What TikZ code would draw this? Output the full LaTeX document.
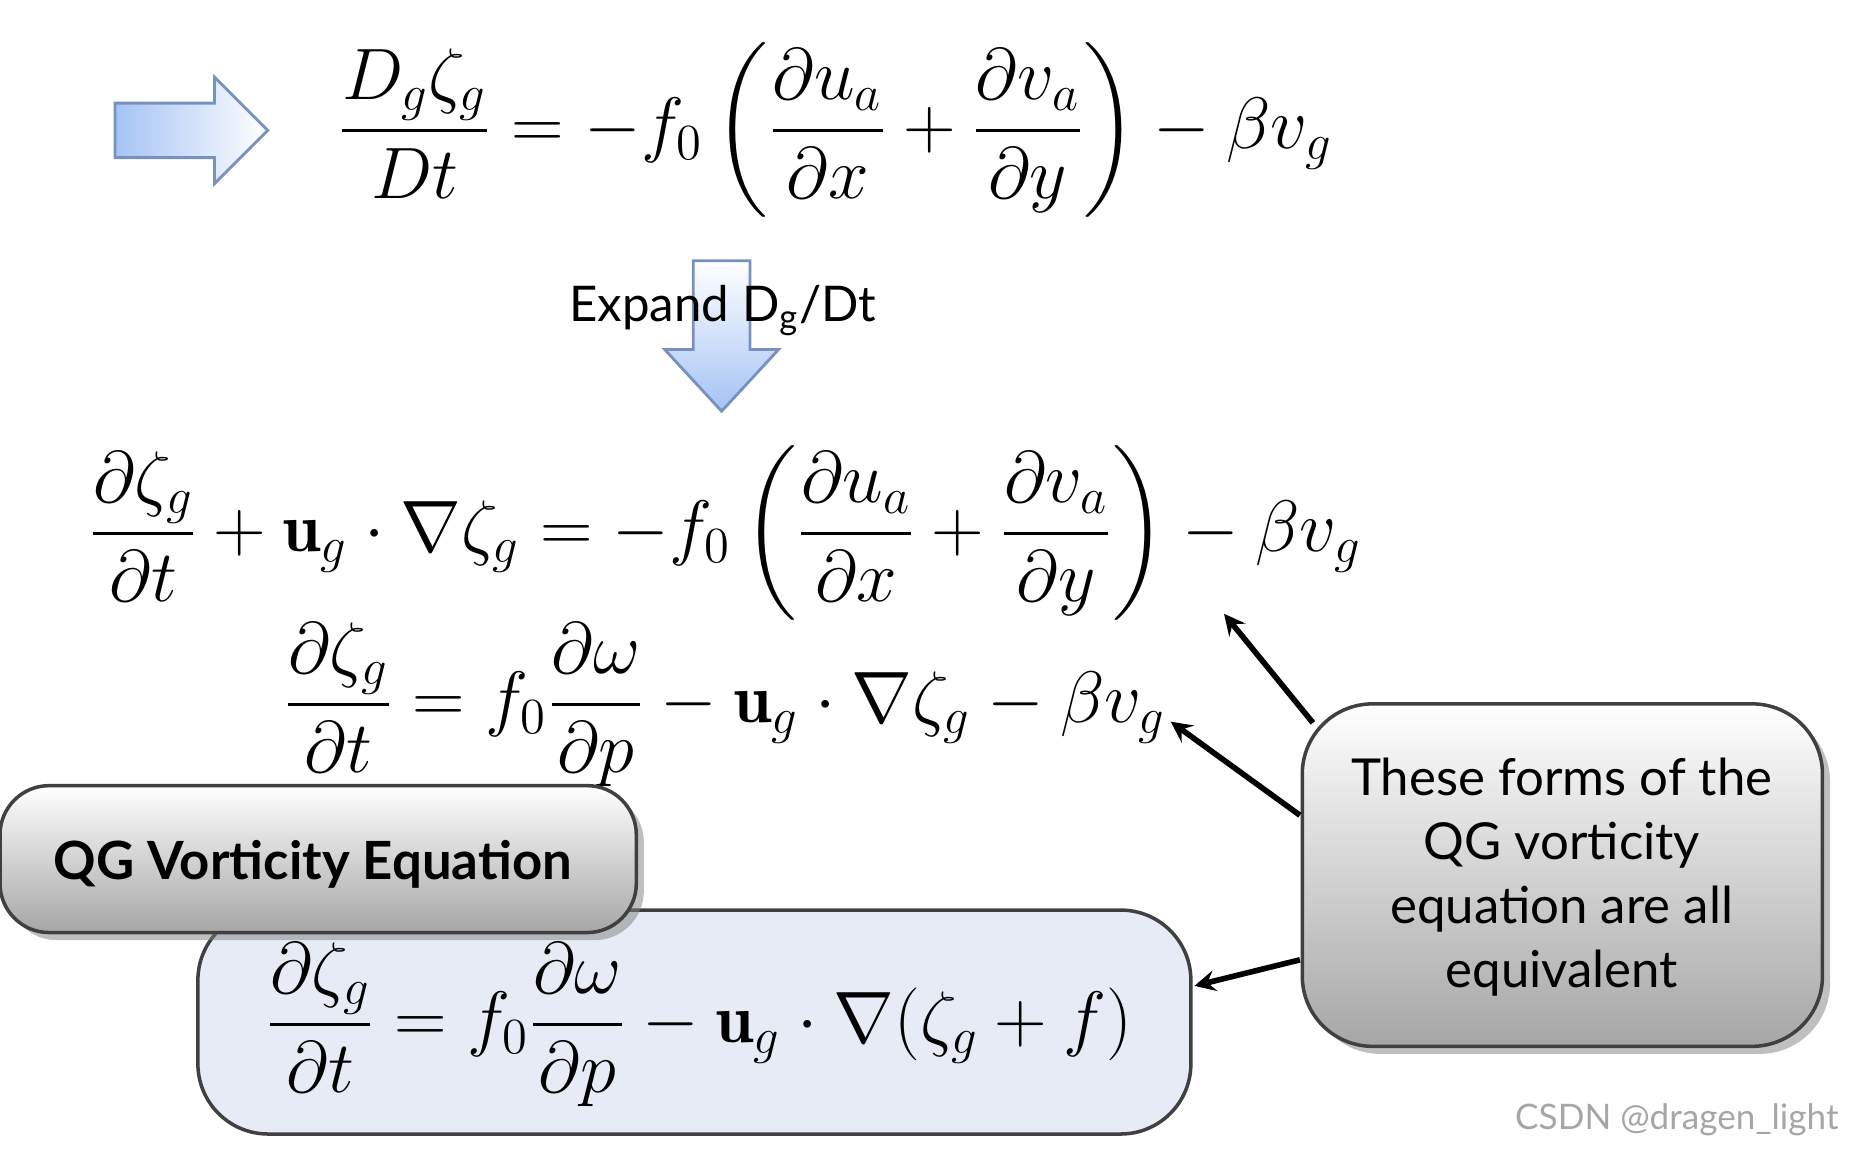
\documentclass[tikz,border=0pt]{standalone}
\usepackage{fontspec}
\usepackage{amsmath}
\setsansfont{Lato}
\usetikzlibrary{shadows}
\definecolor{arrblue}{RGB}{165,195,245}
\definecolor{arredge}{RGB}{120,145,190}
\begin{document}
\begin{tikzpicture}[x=0.01185cm,y=-0.01185cm,
  eq/.style={inner sep=0pt,font=\fontsize{19.7}{24}\selectfont},
  graybox/.style={draw=black!75,line width=1pt,rounded corners=14pt,top color=white,bottom color=black!35},
  callarrow/.style={-stealth,line width=1.6pt},
  arrowline/.style={draw=arredge,line width=0.8pt}]
\useasboundingbox (0,0) rectangle (1568,974);
% right arrow
\path[arrowline,left color=arrblue,right color=white] (97,87) -- (181,87) -- (181,65) -- (226,110) -- (181,155) -- (181,133) -- (97,133) -- cycle;
\node[eq] (e1) at (705,110) {$\dfrac{D_g\zeta_g}{Dt}=-f_0\left(\dfrac{\partial u_a}{\partial x}+\dfrac{\partial v_a}{\partial y}\right)-\beta v_g$};
% down arrow
\path[arrowline,top color=white,bottom color=arrblue] (585,220) -- (633,220) -- (633,295) -- (657,295) -- (609,347) -- (561,295) -- (585,295) -- cycle;
\node[font=\sffamily\fontsize{14}{17}\selectfont,inner sep=0pt] (lab) at (610,262) {Expand D\textsubscript{g}/Dt};
\node[eq] (e2) at (612,450) {$\dfrac{\partial\zeta_g}{\partial t}+\mathbf{u}_g\cdot\nabla\zeta_g=-f_0\left(\dfrac{\partial u_a}{\partial x}+\dfrac{\partial v_a}{\partial y}\right)-\beta v_g$};
\node[eq] (e3) at (612,595) {$\dfrac{\partial\zeta_g}{\partial t}=f_0\dfrac{\partial\omega}{\partial p}-\mathbf{u}_g\cdot\nabla\zeta_g-\beta v_g$};
% blue box
\draw[black!75,line width=1pt,rounded corners=20pt,fill={rgb,255:red,230;green,235;blue,245}] (167,768) rectangle (1005,957);
\node[eq] (e4) at (590,865) {$\dfrac{\partial\zeta_g}{\partial t}=f_0\dfrac{\partial\omega}{\partial p}-\mathbf{u}_g\cdot\nabla(\zeta_g+f)$};
% gray box
\path[graybox,drop shadow] (0,663) rectangle (537,787);
\node[font=\sffamily\bfseries\fontsize{15}{18}\selectfont] (qg) at (264,729) {QG Vorticity Equation};
% callout
\path[graybox,drop shadow,rounded corners=20pt] (1099,594) rectangle (1538,883);
\node[font=\sffamily\fontsize{14.5}{18.2}\selectfont,align=center] (ct) at (1318,740) {These forms of the\\QG vorticity\\equation are all\\equivalent};
\coordinate (a1) at (1108,610); \coordinate (t1) at (1033,518);
\coordinate (a2) at (1097,688); \coordinate (t2) at (988,609);
\coordinate (a3) at (1097,810); \coordinate (t3) at (1008,832);
\draw[callarrow] (a1) -- (t1);
\draw[callarrow] (a2) -- (t2);
\draw[callarrow] (a3) -- (t3);
\node[font=\sffamily\fontsize{10}{12}\selectfont,text=black!35,anchor=east] (wm) at (1562,945) {CSDN @dragen\_light};
\end{tikzpicture}
\end{document}
